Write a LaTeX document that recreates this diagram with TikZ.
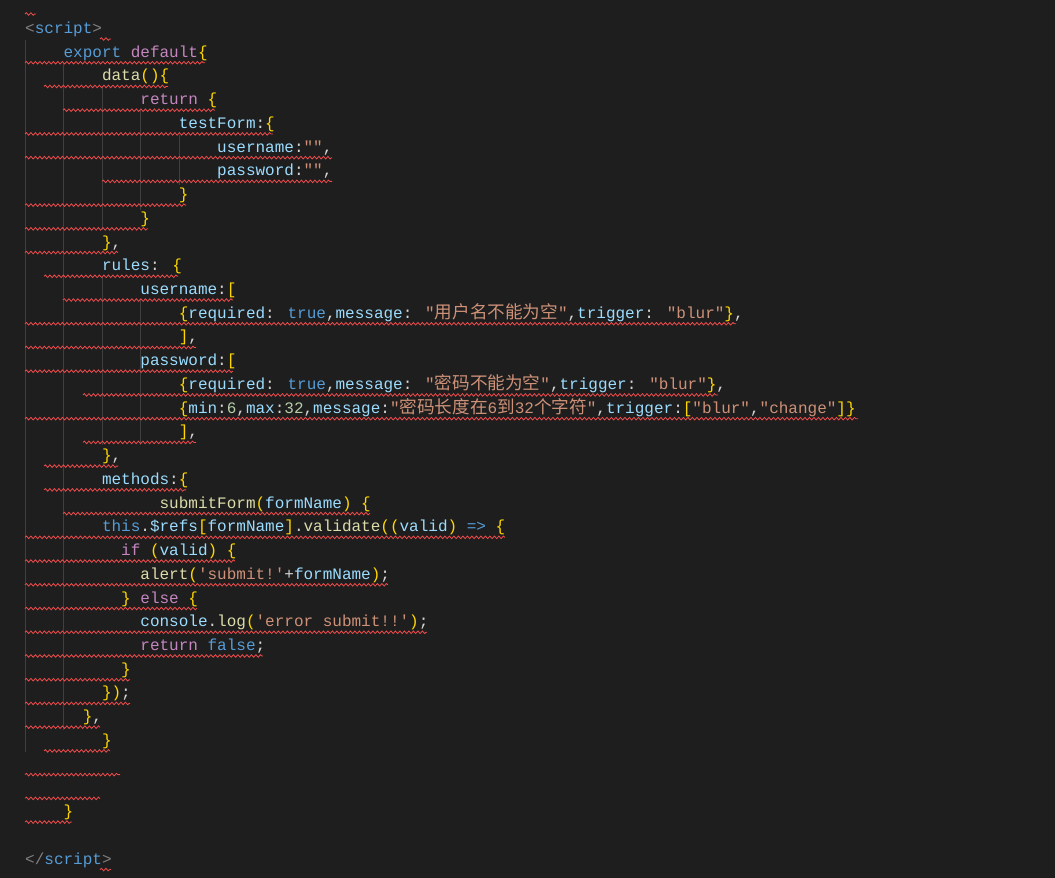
\documentclass[tikz,border=0pt]{standalone}
\usepackage{fontspec}
\usetikzlibrary{decorations.pathmorphing}
\newfontfamily\codefont{Liberation Mono}
\newfontfamily\cjk{Noto Sans CJK SC}[Scale=1.1]
\definecolor{bg}{HTML}{1E1E1E}
\definecolor{txt}{HTML}{D4D4D4}
\definecolor{kw}{HTML}{569CD6}
\definecolor{pk}{HTML}{C586C0}
\definecolor{fn}{HTML}{DCDCAA}
\definecolor{vr}{HTML}{9CDCFE}
\definecolor{st}{HTML}{CE9178}
\definecolor{nm}{HTML}{B5CEA8}
\definecolor{br}{HTML}{FFD700}
\definecolor{gy}{HTML}{808080}
\definecolor{guidecol}{HTML}{404040}
\definecolor{err}{HTML}{F14C4C}
\newcommand\K[1]{\textcolor{kw}{#1}}
\newcommand\Pk[1]{\textcolor{pk}{#1}}
\newcommand\F[1]{\textcolor{fn}{#1}}
\newcommand\V[1]{\textcolor{vr}{#1}}
\newcommand\Sq[1]{\textcolor{st}{#1}}
\newcommand\N[1]{\textcolor{nm}{#1}}
\newcommand\B[1]{\textcolor{br}{#1}}
\newcommand\G[1]{\textcolor{gy}{#1}}
\newcommand\cl[3]{\node[code] (l#1) at ({25+9.6*#2},{28+23.73*(#1-1)+5.5}) {#3};}
\newcommand\sq[3]{\draw[squig] ({#2},{28+23.73*(#1-1)+11}) -- ({#3},{28+23.73*(#1-1)+11});}
\newcommand\gd[3]{\draw[guideln] (#1,#2) -- (#1,#3);}
\tikzset{
 code/.style={anchor=base west,inner sep=0pt,font=\codefont\fontsize{16}{18}\selectfont,text=txt},
 squig/.style={err,line width=0.8pt,decorate,decoration={snake,amplitude=1.3pt,segment length=4.5pt}},
 guideln/.style={guidecol,line width=1pt}
}
\begin{document}
\begin{tikzpicture}[x=1pt,y=-1pt]
\fill[bg] (0,0) rectangle (1055,878);
\useasboundingbox (0,0) rectangle (1055,878);
% indent guides
\gd{25}{40}{752}
\gd{63}{63}{730}
\gd{102}{87}{230}
\gd{102}{277}{445}
\gd{140}{110}{210}
\gd{140}{300}{445}
\gd{179}{135}{185}
% squiggles
\draw[squig] (25,14) -- (36,14);
\sq{1}{100}{111}
\sq{2}{25}{205}
\sq{3}{44}{168}
\sq{4}{63}{215}
\sq{5}{25}{273}
\sq{6}{25}{332}
\sq{7}{102}{332}
\sq{8}{25}{186}
\sq{9}{25}{148}
\sq{10}{25}{118}
\sq{11}{44}{178}
\sq{12}{63}{233}
\sq{13}{25}{736}
\sq{14}{25}{196}
\sq{15}{25}{233}
\sq{16}{83}{718}
\sq{17}{25}{858}
\sq{18}{83}{196}
\sq{19}{44}{118}
\sq{20}{44}{186}
\sq{21}{63}{370}
\sq{22}{25}{505}
\sq{23}{25}{235}
\sq{24}{25}{388}
\sq{25}{25}{197}
\sq{26}{25}{427}
\sq{27}{25}{263}
\sq{28}{25}{130}
\sq{29}{25}{130}
\sq{30}{25}{100}
\sq{31}{44}{110}
\sq{32}{25}{120}
\sq{33}{25}{100}
\sq{34}{25}{72}
\sq{36}{100}{111}
% code
\cl{1}{0}{\G{<}\K{script}\G{>}}
\cl{2}{4}{\K{export} \Pk{default}\B{\{}}
\cl{3}{8}{\F{data}\B{()\{}}
\cl{4}{12}{\Pk{return} \B{\{}}
\cl{5}{16}{\V{testForm}:\B{\{}}
\cl{6}{20}{\V{username}:\Sq{""},}
\cl{7}{20}{\V{password}:\Sq{""},}
\cl{8}{16}{\B{\}}}
\cl{9}{12}{\B{\}}}
\cl{10}{8}{\B{\}},}
\cl{11}{8}{\V{rules}: \B{\{}}
\cl{12}{12}{\V{username}:\B{[}}
\cl{13}{16}{\B{\{}\V{required}: \K{true},\V{message}: \Sq{"{\cjk 用户名不能为空}"},\V{trigger}: \Sq{"blur"}\B{\}},}
\cl{14}{16}{\B{]},}
\cl{15}{12}{\V{password}:\B{[}}
\cl{16}{16}{\B{\{}\V{required}: \K{true},\V{message}: \Sq{"{\cjk 密码不能为空}"},\V{trigger}: \Sq{"blur"}\B{\}},}
\cl{17}{16}{\B{\{}\V{min}:\N{6},\V{max}:\N{32},\V{message}:\Sq{"{\cjk 密码长度在}6{\cjk 到}32{\cjk 个字符}"},\V{trigger}:\B{[}\Sq{"blur"},\Sq{"change"}\B{]\}}}
\cl{18}{16}{\B{]},}
\cl{19}{8}{\B{\}},}
\cl{20}{8}{\V{methods}:\B{\{}}
\cl{21}{14}{\F{submitForm}\B{(}\V{formName}\B{)} \B{\{}}
\cl{22}{8}{\K{this}.\V{\$refs}\B{[}\V{formName}\B{]}.\F{validate}\B{((}\V{valid}\B{)} \K{=>} \B{\{}}
\cl{23}{10}{\Pk{if} \B{(}\V{valid}\B{)} \B{\{}}
\cl{24}{12}{\F{alert}\B{(}\Sq{'submit!'}+\V{formName}\B{)};}
\cl{25}{10}{\B{\}} \Pk{else} \B{\{}}
\cl{26}{12}{\V{console}.\F{log}\B{(}\Sq{'error submit!!'}\B{)};}
\cl{27}{12}{\Pk{return} \K{false};}
\cl{28}{10}{\B{\}}}
\cl{29}{8}{\B{\})};}
\cl{30}{6}{\B{\}},}
\cl{31}{8}{\B{\}}}
\cl{34}{4}{\B{\}}}
\cl{36}{0}{\G{</}\K{script}\G{>}}
\end{tikzpicture}
\end{document}
